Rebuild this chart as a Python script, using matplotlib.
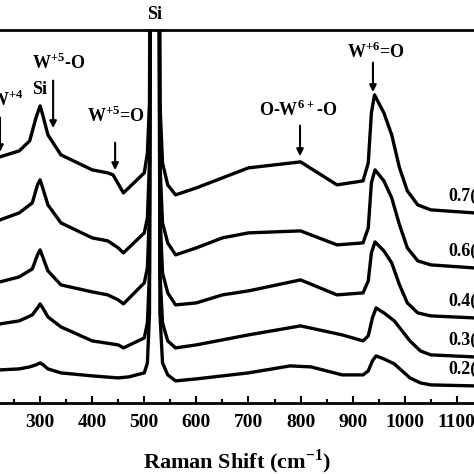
import matplotlib
matplotlib.use("Agg")
import matplotlib.pyplot as plt
from matplotlib.ticker import MultipleLocator

plt.rcParams["font.family"] = ["Liberation Serif", "DejaVu Serif"]
plt.rcParams["font.weight"] = "bold"
plt.rcParams["mathtext.fontset"] = "custom"
plt.rcParams["mathtext.rm"] = "Liberation Serif:bold"
plt.rcParams["mathtext.bf"] = "Liberation Serif:bold"

# spectra (Raman shift, stacked intensity a.u.)
shift_02 = [223, 260, 280, 292, 300, 306, 315, 340, 400, 450, 470, 500, 506, 510, 513, 527, 530, 535, 545, 560, 600, 700, 780, 820, 880, 920, 930, 938, 945, 960, 980, 995, 1010, 1030, 1050, 1133]
int_02 = [33, 34, 36, 38, 40, 38, 34, 30, 27, 25, 26, 30, 40, 90, 800, 800, 90, 40, 28, 22, 24, 30, 37, 36, 28, 28, 32, 42, 47, 44, 39, 32, 25, 20, 18, 17]
shift_03 = [223, 260, 285, 295, 300, 305, 315, 340, 400, 450, 460, 500, 506, 510, 513, 527, 530, 535, 545, 560, 600, 700, 800, 880, 920, 930, 938, 945, 960, 980, 995, 1010, 1030, 1050, 1133]
int_03 = [79, 82, 88, 95, 99, 95, 86, 76, 62, 58, 55, 65, 80, 130, 800, 800, 130, 80, 62, 55, 58, 68, 77, 68, 62, 67, 85, 95, 90, 82, 72, 62, 52, 48, 46]
shift_04 = [223, 260, 285, 295, 300, 305, 315, 340, 400, 430, 450, 460, 500, 506, 510, 513, 527, 530, 535, 545, 560, 600, 650, 700, 800, 870, 920, 930, 936, 943, 960, 975, 990, 1005, 1025, 1050, 1133]
int_04 = [121, 126, 134, 148, 153, 146, 132, 118, 111, 108, 103, 99, 120, 135, 190, 800, 800, 190, 130, 110, 98, 100, 108, 112, 123, 108, 110, 122, 150, 161, 152, 140, 118, 100, 90, 87, 85]
shift_06 = [223, 260, 285, 295, 300, 305, 315, 340, 400, 430, 450, 460, 500, 506, 510, 513, 527, 530, 535, 545, 560, 600, 650, 700, 800, 870, 920, 930, 936, 943, 960, 975, 990, 1005, 1025, 1050, 1133]
int_06 = [183, 190, 200, 218, 223, 215, 198, 180, 165, 162, 155, 150, 170, 185, 240, 800, 800, 240, 180, 160, 148, 155, 165, 170, 172, 158, 160, 175, 220, 233, 222, 205, 178, 155, 142, 138, 135]
shift_07 = [223, 260, 280, 292, 300, 305, 315, 340, 400, 430, 440, 460, 500, 506, 510, 513, 527, 530, 535, 545, 560, 600, 700, 800, 870, 920, 930, 936, 942, 960, 975, 990, 1005, 1025, 1050, 1133]
int_07 = [246, 252, 262, 285, 297, 288, 268, 248, 233, 230, 228, 210, 230, 250, 300, 800, 800, 300, 240, 218, 208, 215, 235, 241, 218, 222, 240, 290, 308, 290, 268, 235, 212, 198, 193, 190]

series = [(shift_02, int_02, "0.2(a)"), (shift_03, int_03, "0.3(a)"),
          (shift_04, int_04, "0.4(a)"), (shift_06, int_06, "0.6(a)"),
          (shift_07, int_07, "0.7(a)")]

fig = plt.figure(figsize=(4.74, 4.74), dpi=100)
ax = fig.add_axes([0.0, 0.150, 1.0, 0.787])
for x, y, lab in series:
    ax.plot(x, y, color="black", lw=2.4, solid_joinstyle="round")
    ax.text(1083, y[-1] + 8, lab, fontsize=13, fontweight="bold", va="bottom")

ax.set_xlim(223, 1133)
ax.set_ylim(0, 373)
ax.xaxis.set_major_locator(MultipleLocator(100))
ax.xaxis.set_minor_locator(MultipleLocator(50))
ax.tick_params(axis="x", which="major", direction="in", length=5, width=1.5, labelsize=14, pad=8)
ax.tick_params(axis="x", which="minor", direction="in", length=3, width=1.5)
ax.set_yticks([])
for s in ("left", "right"):
    ax.spines[s].set_visible(False)
for s in ("top", "bottom"):
    ax.spines[s].set_linewidth(2)
for t in ax.get_xticklabels():
    t.set_fontweight("bold")
ax.set_xlabel("Raman Shift (cm$^{-1}$)", fontsize=16, fontweight="bold", labelpad=12)

# peak annotations
arrow = dict(arrowstyle="-|>", color="black", lw=1.5)
ax.text(520, 380, "Si", fontsize=13, ha="center", va="bottom", clip_on=False)
ax.text(300, 305, "Si", fontsize=13, ha="center", va="bottom")
ax.text(236, 293, "W$^{+4}$", fontsize=13, ha="center", va="bottom")
ax.annotate("", xy=(223, 248), xytext=(223, 288), arrowprops=arrow)
ax.text(335, 330, "W$^{+5}$-O", fontsize=13, ha="center", va="bottom")
ax.annotate("", xy=(325, 272), xytext=(325, 325), arrowprops=arrow)
ax.text(445, 277, "W$^{+5}$=O", fontsize=13, ha="center", va="bottom")
ax.annotate("", xy=(444, 230), xytext=(444, 263), arrowprops=arrow)
ax.text(795, 283, "O-W$^{6+}$-O", fontsize=13, ha="center", va="bottom")
ax.annotate("", xy=(799, 244), xytext=(799, 280), arrowprops=arrow)
ax.text(945, 341, "W$^{+6}$=O", fontsize=13, ha="center", va="bottom")
ax.annotate("", xy=(939, 308), xytext=(939, 343), arrowprops=arrow)

fig.savefig("out.png", dpi=100, facecolor="white")
